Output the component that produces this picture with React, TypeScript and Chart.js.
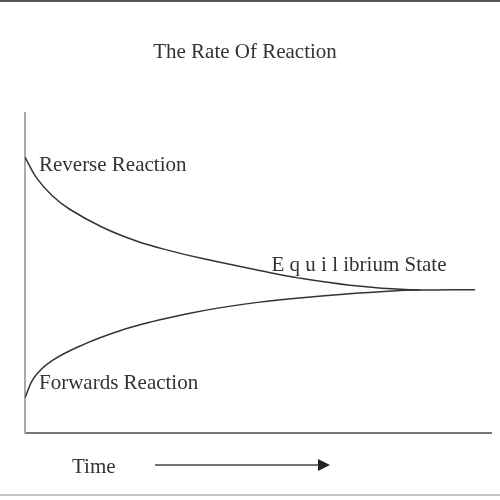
import React, { useEffect, useRef } from "react";
import { Chart, registerables } from "chart.js";

Chart.register(...registerables);

const reverseX = [0, 2.4, 5.8, 9.5, 16.6, 23.9, 31.0, 38.1, 50.3, 58.9, 69.7, 82.6, 96.6];
const reverseY = [86.2, 79.9, 74.2, 70.0, 64.3, 60.0, 57.0, 54.5, 50.8, 48.4, 46.2, 44.8, 44.8];
const forwardX = [0, 1.9, 5.8, 13.1, 20.2, 27.3, 34.6, 41.7, 50.3, 58.9, 69.7, 80.4, 84.7];
const forwardY = [11.0, 17.2, 22.6, 28.0, 31.9, 34.8, 37.2, 39.1, 40.9, 42.2, 43.5, 44.5, 44.8];

const titleText = "The Rate Of Reaction";
const reverseLabel = "Reverse Reaction";
const forwardLabel = "Forwards Reaction";
const equilibriumLabel = "E q u i l ibrium State";
const xLabel = "Time";

const toPoints = (xs: number[], ys: number[]) => xs.map((x, i) => ({ x, y: ys[i] }));

const decorPlugin = {
  id: "decor",
  afterDraw(chart: any) {
    const ctx = chart.ctx as CanvasRenderingContext2D;
    const xs = chart.scales.x;
    const ys = chart.scales.y;
    ctx.save();
    ctx.fillStyle = "#555";
    ctx.fillRect(0, 0, 500, 2);
    ctx.fillStyle = "#c4c4c4";
    ctx.fillRect(0, 494, 500, 2);

    ctx.fillStyle = "#333";
    ctx.textBaseline = "middle";
    ctx.textAlign = "center";
    ctx.font = "21px 'Liberation Serif'";
    ctx.fillText(titleText, 245, 52);

    ctx.textAlign = "left";
    ctx.fillText(reverseLabel, xs.getPixelForValue(3), ys.getPixelForValue(83.5));
    ctx.fillText(forwardLabel, xs.getPixelForValue(3), ys.getPixelForValue(15.4));
    ctx.fillText(equilibriumLabel, xs.getPixelForValue(52.9), ys.getPixelForValue(52.4));
    ctx.fillText(xLabel, 72, 467);

    ctx.strokeStyle = "#444";
    ctx.lineWidth = 1.5;
    ctx.beginPath();
    ctx.moveTo(155, 465);
    ctx.lineTo(320, 465);
    ctx.stroke();
    ctx.fillStyle = "#222";
    ctx.beginPath();
    ctx.moveTo(318, 459);
    ctx.lineTo(330, 465);
    ctx.lineTo(318, 471);
    ctx.closePath();
    ctx.fill();
    ctx.restore();
  },
};

export default function App() {
  const ref = useRef<HTMLCanvasElement | null>(null);
  useEffect(() => {
    if (!ref.current) return;
    const chart = new Chart(ref.current, {
      type: "scatter",
      data: {
        datasets: [
          {
            data: toPoints(reverseX, reverseY),
            showLine: true,
            borderColor: "#333",
            borderWidth: 1.5,
            pointRadius: 0,
            tension: 0.4,
          },
          {
            data: toPoints(forwardX, forwardY),
            showLine: true,
            borderColor: "#333",
            borderWidth: 1.5,
            pointRadius: 0,
            tension: 0.4,
          },
        ],
      },
      options: {
        responsive: false,
        animation: false,
        layout: { padding: { left: 25, right: 9, top: 113, bottom: 67 } },
        plugins: { legend: { display: false }, tooltip: { enabled: false }, title: { display: false } },
        scales: {
          x: {
            type: "linear",
            min: 0,
            max: 100,
            ticks: { display: false },
            grid: { display: false, drawTicks: false },
            border: { display: true, color: "#777", width: 2 },
          },
          y: {
            type: "linear",
            min: 0,
            max: 100,
            ticks: { display: false },
            grid: { display: false, drawTicks: false },
            border: { display: true, color: "#aaa", width: 2 },
          },
        },
      },
      plugins: [decorPlugin],
    });
    return () => chart.destroy();
  }, []);
  return (
    <div style={{ position: "fixed", left: 0, top: 0, width: 500, height: 500, background: "#fff" }}>
      <canvas ref={ref} width={500} height={500} />
    </div>
  );
}
